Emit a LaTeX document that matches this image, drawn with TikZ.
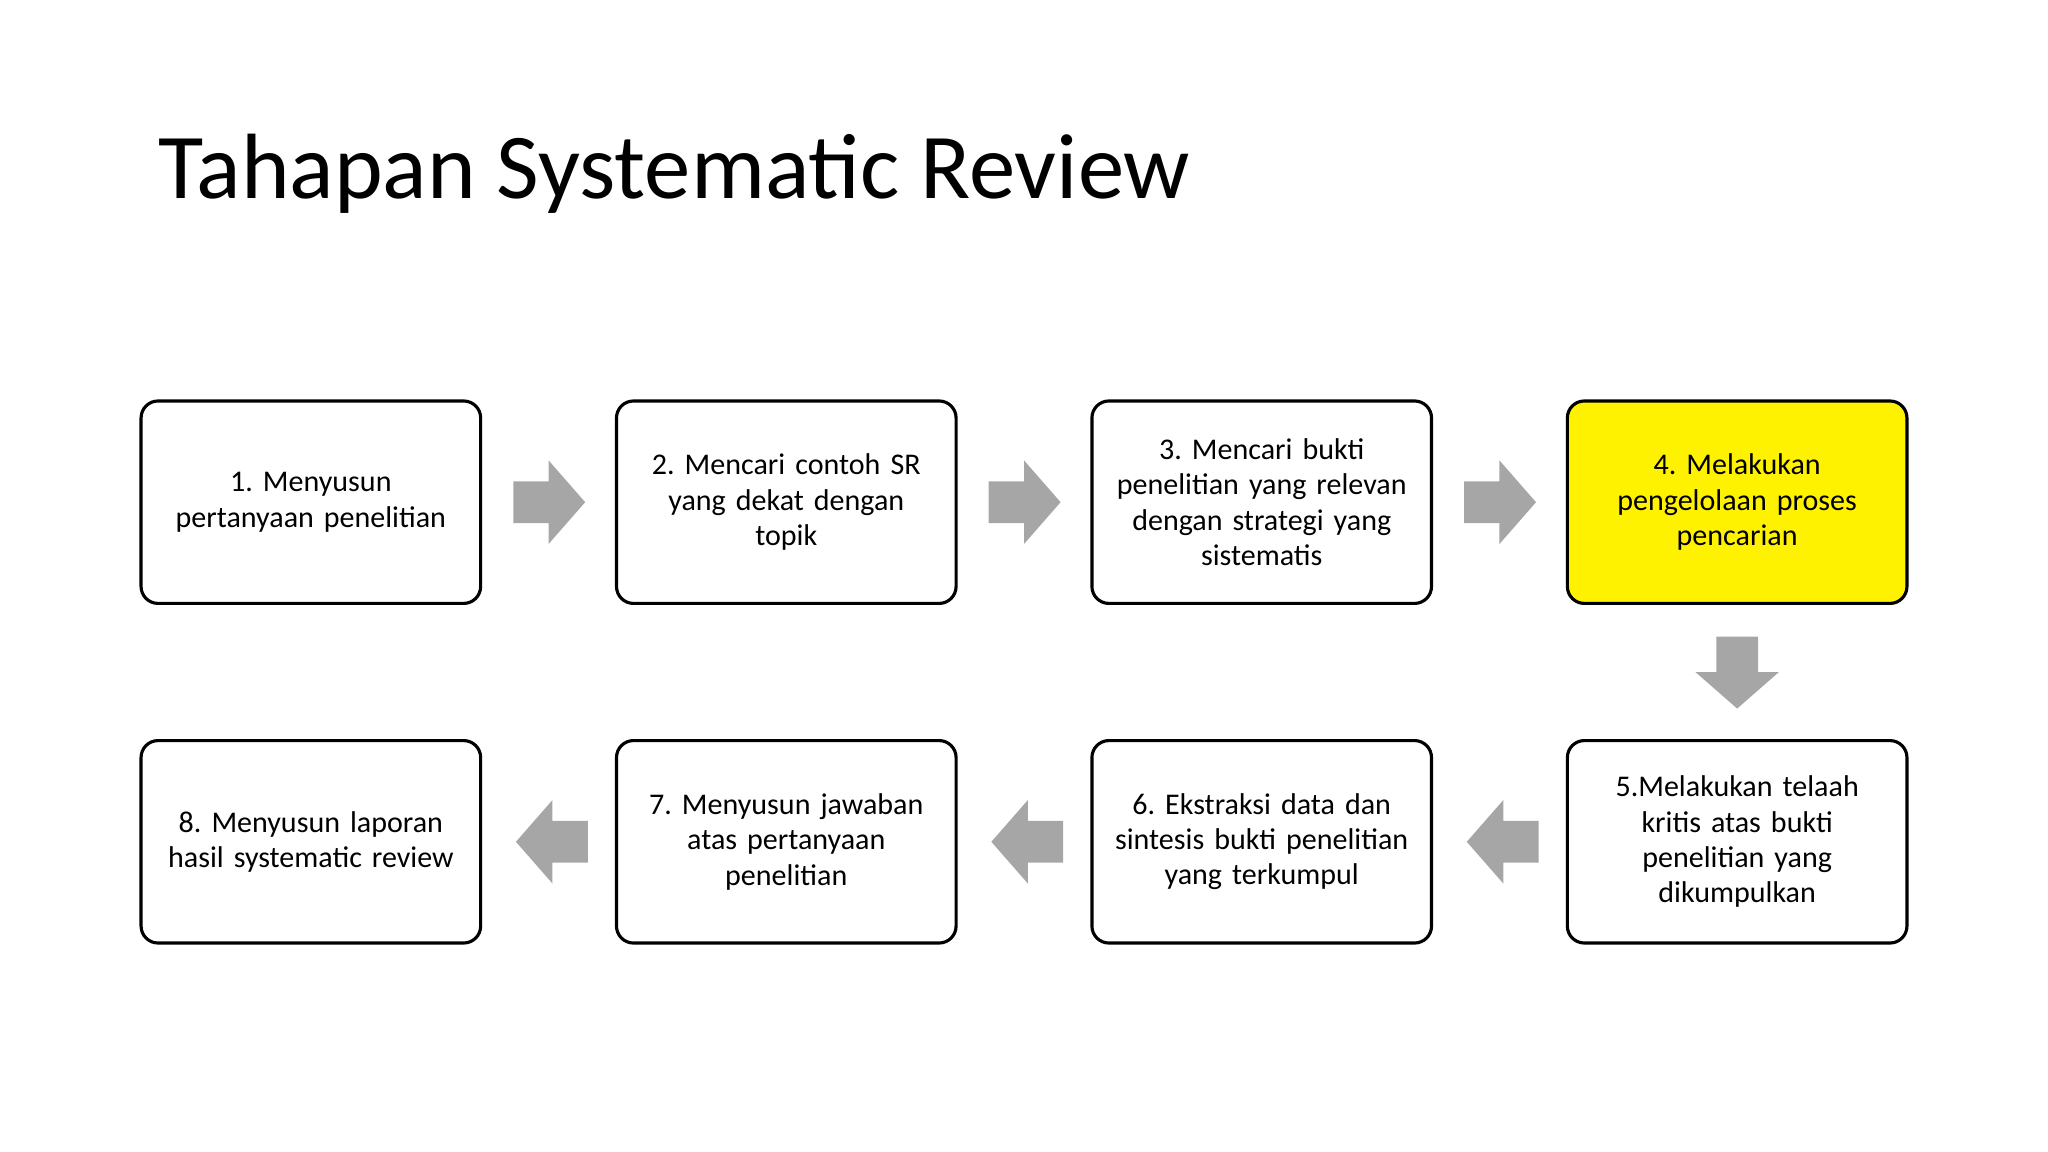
\documentclass[tikz,border=0pt]{standalone}
\usepackage{fontspec}
\setmainfont{Carlito}
\usetikzlibrary{calc}
\begin{document}
\frenchspacing
\begin{tikzpicture}[x=1pt,y=-1pt,
  box/.style={draw=black,line width=2.4pt,rounded corners=13pt,minimum width=260pt,minimum height=155pt,align=center,font=\fontsize{23}{27}\selectfont,text width=240pt},
  blockarrow/.pic={\fill[black!35] (-27,-16) -- (0,-16) -- (0,-32) -- (28,0) -- (0,32) -- (0,16) -- (-27,16) -- cycle;}]
\useasboundingbox (0,0) rectangle (1568,882);
\node[anchor=base west,font=\fontsize{71}{75}\selectfont] (title) at (118,152) {Tahapan Systematic Review};
\node[box] (b1) at (238,384.5) {1. Menyusun\\pertanyaan penelitian};
\node[box] (b2) at (602,384.5) {2. Mencari contoh SR\\yang dekat dengan\\topik};
\node[box] (b3) at (966,384.5) {3. Mencari bukti\\penelitian yang relevan\\dengan strategi yang\\sistematis};
\node[box,fill=yellow] (b4) at (1330,384.5) {4. Melakukan\\pengelolaan proses\\pencarian};
\node[box] (b5) at (1330,644.5) {5.Melakukan telaah\\kritis atas bukti\\penelitian yang\\dikumpulkan};
\node[box] (b6) at (966,644.5) {6. Ekstraksi data dan\\sintesis bukti penelitian\\yang terkumpul};
\node[box] (b7) at (602,644.5) {7. Menyusun jawaban\\atas pertanyaan\\penelitian};
\node[box] (b8) at (238,644.5) {8. Menyusun laporan\\hasil systematic review};
\coordinate (a12) at ($(b1.east)!0.5!(b2.west)$);
\coordinate (a23) at ($(b2.east)!0.5!(b3.west)$);
\coordinate (a34) at ($(b3.east)!0.5!(b4.west)$);
\coordinate (a45) at ($(b4.south)!0.5!(b5.north)$);
\coordinate (a56) at ($(b6.east)!0.5!(b5.west)+(3,0)$);
\coordinate (a67) at ($(b7.east)!0.5!(b6.west)+(3,0)$);
\coordinate (a78) at ($(b8.east)!0.5!(b7.west)+(3,0)$);
\pic at (a12) {blockarrow};
\pic at (a23) {blockarrow};
\pic at (a34) {blockarrow};
\pic[rotate=-90] at (a45) {blockarrow};
\pic[rotate=180] at (a56) {blockarrow};
\pic[rotate=180] at (a67) {blockarrow};
\pic[rotate=180] at (a78) {blockarrow};
\end{tikzpicture}
\end{document}
